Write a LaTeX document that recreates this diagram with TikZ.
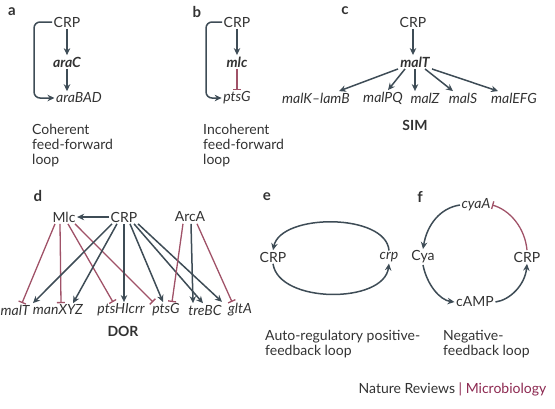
\documentclass[tikz,border=0pt]{standalone}
\usepackage{fontspec}
\setmainfont{Lato}
\usetikzlibrary{arrows.meta,calc}
\definecolor{lc}{RGB}{62,76,86}
\definecolor{rc}{RGB}{160,82,104}
\definecolor{tc}{RGB}{50,50,50}
\definecolor{mc}{RGB}{140,40,80}
\begin{document}
\begin{tikzpicture}[x=1pt,y=-1pt,
  every node/.style={font=\fontsize{14}{15}\selectfont, text=tc, inner sep=1.5pt},
  lab/.style={font=\fontsize{15}{16}\selectfont\bfseries},
  gene/.style={font=\fontsize{14}{15}\selectfont\itshape},
  bgene/.style={font=\fontsize{14}{15}\selectfont\bfseries\itshape},
  act/.style={draw=lc, line width=1.5pt, -{Stealth[length=7pt,width=6.5pt]}},
  rep/.style={draw=rc, line width=1.3pt, -{Bar[width=8pt,line width=1.3pt]}},
  captxt/.style={anchor=north west, align=left, inner sep=0pt, font=\fontsize{14}{15}\selectfont},
  title/.style={font=\fontsize{14}{15}\selectfont\bfseries}]
\useasboundingbox (0,0) rectangle (555,408);
% ---------- a
\node[lab] (la) at (12,12) {a};
\node (CRPa) at (67,22) {CRP};
\node[bgene] (araC) at (67,62) {araC};
\node[gene] (araBAD) at (79,98) {araBAD};
\draw[act] (CRPa.south) -- (araC.north);
\draw[act] (araC.south) -- (araC.south |- araBAD.north);
\draw[act, rounded corners=6pt] (CRPa.west) -- ++(-18,0) |- (araBAD.west);
\node[captxt] (ca) at (32,124) {Coherent\\feed-forward\\loop};
% ---------- b
\node[lab] (lb) at (197,12) {b};
\node (CRPb) at (237,22) {CRP};
\node[bgene] (mlc) at (237,62) {mlc};
\node[gene] (ptsGb) at (237,98) {ptsG};
\draw[act] (CRPb.south) -- (mlc.north);
\draw[rep] (mlc.south) -- (mlc.south |- ptsGb.north);
\draw[act, rounded corners=6pt] (CRPb.west) -- ++(-16,0) |- (ptsGb.west);
\node[captxt] (cb) at (203,124) {Incoherent\\feed-forward\\loop};
% ---------- c
\node[lab] (lc) at (345,11) {c};
\node (CRPc) at (413,22) {CRP};
\node[bgene] (malTc) at (415,62) {malT};
\node[gene] (malK) at (316,98) {malK–lamB};
\node[gene] (malPQ) at (383,98) {malPQ};
\node[gene] (malZ) at (425,98) {malZ};
\node[gene] (malS) at (463,98) {malS};
\node[gene] (malEFG) at (514,98) {malEFG};
\draw[act] (CRPc.south) -- (CRPc.south |- malTc.north);
\draw[act] ([xshift=-17]malTc.south) -- ([xshift=23]malK.north);
\draw[act] ([xshift=-10]malTc.south) -- ([xshift=5]malPQ.north);
\draw[act] (malTc.south) -- (malTc.south |- malZ.north);
\draw[act] ([xshift=10]malTc.south) -- ([xshift=-10]malS.north);
\draw[act] ([xshift=17]malTc.south) -- ([xshift=-16]malEFG.north);
\node[title] (sim) at (415,125) {SIM};
% ---------- d
\node[lab] (ld) at (38,196) {d};
\node (Mlc) at (64,217) {Mlc};
\node (CRPd) at (124,217) {CRP};
\node (ArcA) at (190,217) {ArcA};
\node[gene] (tmalT) at (15,310) {malT};
\node[gene] (tman) at (58,310) {manXYZ};
\node[gene] (tpts) at (121,310) {ptsHIcrr};
\node[gene] (tptsG) at (166,310) {ptsG};
\node[gene] (ttre) at (205,310) {treBC};
\node[gene] (tglt) at (240,310) {gltA};
\draw[act] (CRPd.west) -- (Mlc.east);
% Mlc repressions
\draw[rep] ([xshift=-9]Mlc.south) -- ([xshift=7]tmalT.north);
\draw[rep] ([xshift=-4]Mlc.south) -- ([xshift=3]tman.north);
\draw[rep] ([xshift=4]Mlc.south) -- ([xshift=-8]tpts.north);
\draw[rep] ([xshift=11]Mlc.south) -- ([xshift=-13]tptsG.north);
% CRP activations
\draw[act] ([xshift=-12]CRPd.south) -- ([xshift=18]tmalT.north);
\draw[act] ([xshift=-7]CRPd.south) -- ([xshift=15]tman.north);
\draw[act] (CRPd.south) -- ([xshift=3]tpts.north);
\draw[act] ([xshift=6]CRPd.south) -- ([xshift=-3]tptsG.north);
\draw[act] ([xshift=10]CRPd.south) -- ([xshift=-2]ttre.north);
\draw[act] ([xshift=14]CRPd.south) -- ([xshift=-18]tglt.north);
% ArcA
\draw[rep] ([xshift=-7]ArcA.south) -- ([xshift=6]tptsG.north);
\draw[act] ([xshift=1]ArcA.south) -- ([xshift=-12]ttre.north);
\draw[rep] ([xshift=7]ArcA.south) -- ([xshift=-8]tglt.north);
\node[title] (dor) at (123,331) {DOR};
% ---------- e
\node[lab] (le) at (267,197) {e};
\node (CRPe) at (273,257) {CRP};
\node[gene] (crp) at (389,257) {crp};
\draw[act] (crp.north) .. controls (386,213) and (281,213) .. (CRPe.north);
\draw[act] (CRPe.south) .. controls (279,304) and (384,304) .. (crp.south);
\node[captxt] (ce) at (265,330) {Auto-regulatory positive-\\feedback loop};
% ---------- f
\node[lab] (lf) at (420,197) {f};
\node[gene] (cyaA) at (476,205) {cyaA};
\node (Cya) at (423,257) {Cya};
\node (CRPf) at (527,257) {CRP};
\node (cAMP) at (475,302) {cAMP};
\draw[act] (cyaA.west) .. controls (440,208) and (427,225) .. (Cya.north);
\draw[act] (Cya.south) .. controls (427,285) and (440,300) .. (cAMP.west);
\draw[act] (cAMP.east) .. controls (510,300) and (525,285) .. (CRPf.south);
\draw[rep] (CRPf.north) .. controls (525,228) and (510,210) .. (cyaA.east);
\node[captxt] (cf) at (443,330) {Negative-\\feedback loop};
% ---------- credit
\node[anchor=east, font=\fontsize{14}{15}\selectfont] (nr) at (548,389) {Nature Reviews {\color{mc}| Microbiology}};
\end{tikzpicture}
\end{document}
